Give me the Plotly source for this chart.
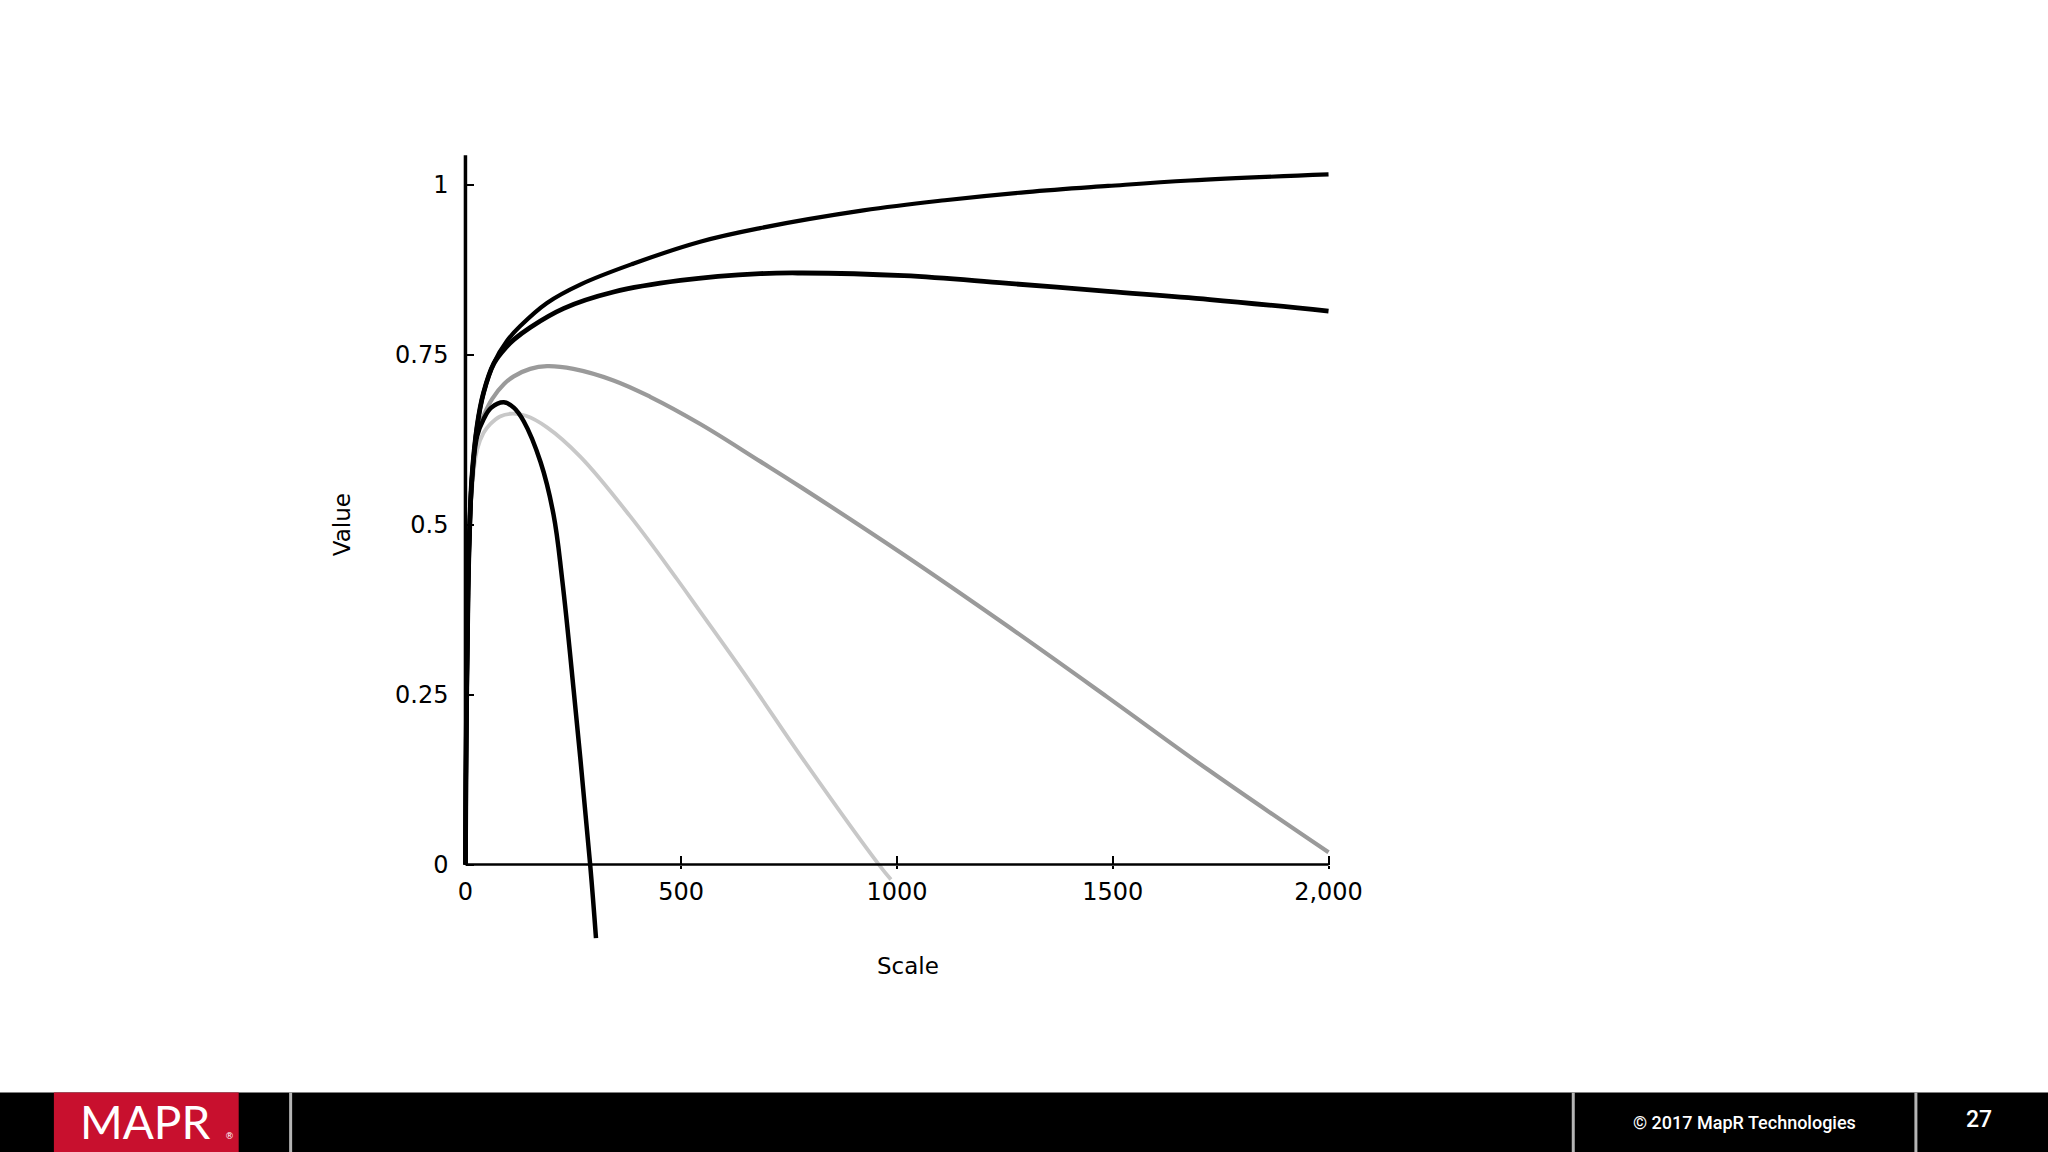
import plotly.graph_objects as go

# ---------------- data ----------------
upper_x = [0, 1, 3, 6, 9, 15, 27, 42, 66, 96, 127, 189, 266, 390, 544, 683, 922, 1111, 1300, 1489, 1679, 2000]
upper_y = [0, 0.12, 0.26, 0.40, 0.48, 0.57, 0.645, 0.694, 0.738, 0.770, 0.792, 0.826, 0.853, 0.884, 0.916, 0.936, 0.962, 0.977, 0.989, 0.998, 1.006, 1.015]

second_x = [0, 1, 3, 6, 9, 15, 27, 42, 66, 96, 112, 150, 228, 343, 498, 683, 780, 1016, 1252, 1489, 1725, 2000]
second_y = [0, 0.12, 0.26, 0.40, 0.48, 0.57, 0.645, 0.694, 0.737, 0.762, 0.772, 0.790, 0.818, 0.842, 0.859, 0.869, 0.870, 0.866, 0.855, 0.843, 0.831, 0.814]

gray_x = [0, 1, 3, 6, 9, 15, 27, 42, 62, 90, 112, 150, 189, 250, 343, 428, 544, 683, 780, 1015, 1251, 1486, 1722, 2000]
gray_y = [0, 0.12, 0.26, 0.40, 0.48, 0.56, 0.635, 0.660, 0.685, 0.707, 0.718, 0.729, 0.733, 0.729, 0.712, 0.688, 0.648, 0.593, 0.554, 0.456, 0.353, 0.247, 0.139, 0.018]

light_x = [0, 1, 3, 6, 9, 15, 27, 42, 58, 80, 104, 140, 189, 266, 382, 490, 544, 657, 780, 958, 986]
light_y = [0, 0.12, 0.26, 0.40, 0.48, 0.55, 0.61, 0.635, 0.648, 0.659, 0.663, 0.660, 0.643, 0.600, 0.512, 0.420, 0.372, 0.271, 0.157, 0.0, -0.022]

short_x = [0, 1, 3, 6, 9, 15, 27, 42, 60, 89, 112, 135, 174, 204, 224, 251, 289, 302.5]
short_y = [0, 0.12, 0.26, 0.40, 0.48, 0.565, 0.63, 0.655, 0.672, 0.680, 0.672, 0.652, 0.592, 0.515, 0.420, 0.255, 0.0, -0.108]

x_tickvals = [0, 500, 1000, 1500, 2000]
x_ticktext = ["0", "500", "1000", "1500", "2,000"]
y_tickvals = [0, 0.25, 0.5, 0.75, 1]
y_ticktext = ["0", "0.25", "0.5", "0.75", "1"]

x_title = "Scale"
y_title = "Value"
footer_text = "© 2017 MapR Technologies"
page_no = "27"
logo_text = "MAPR"

# ---------------- layout geometry ----------------
W, H = 2048, 1152
X_MIN, X_MAX = -8, 2015
Y_MIN, Y_MAX = -0.13, 1.045
PX_PER_X = 0.432
PX_PER_Y = 680.0
X0_PX, Y0_PX = 465.0, 865.0

ML = X0_PX + X_MIN * PX_PER_X
PLOT_R = X0_PX + X_MAX * PX_PER_X
MR = W - PLOT_R
MT = Y0_PX - Y_MAX * PX_PER_Y
PLOT_B = Y0_PX - Y_MIN * PX_PER_Y
MB = H - PLOT_B
PW = W - ML - MR
PH = H - MT - MB


def px_x(px):
    return (px - ML) / PW


def px_y(py):
    return (H - MB - py) / PH


FONT = "DejaVu Sans"
TICK_SIZE = 24

fig = go.Figure()

series = [
    (light_x, light_y, "#c8c8c8", 3.8),
    (gray_x, gray_y, "#9a9a9a", 4.2),
    (second_x, second_y, "#000000", 4.8),
    (upper_x, upper_y, "#000000", 4.2),
    (short_x, short_y, "#000000", 4.5),
]
for xs, ys, col, w in series:
    fig.add_trace(go.Scatter(x=xs, y=ys, mode="lines",
                             line=dict(color=col, width=w, shape="spline", smoothing=1.1),
                             showlegend=False, hoverinfo="skip"))

# invisible trace for the overlay axis carrying the short outer x ticks
fig.add_trace(go.Scatter(x=[None], y=[None], xaxis="x2", yaxis="y", showlegend=False, hoverinfo="skip"))

xpos = (0 - Y_MIN) / (Y_MAX - Y_MIN)
ypos = (0 - X_MIN) / (X_MAX - X_MIN)

fig.update_layout(
    width=W, height=H, autosize=False,
    paper_bgcolor="white", plot_bgcolor="white",
    margin=dict(l=ML, r=MR, t=MT, b=MB, pad=0),
    font=dict(family=FONT, color="black", size=TICK_SIZE),
    xaxis=dict(range=[X_MIN, X_MAX], anchor="free", position=xpos,
               showgrid=False, zeroline=False, showline=False,
               tickmode="array", tickvals=x_tickvals, ticktext=x_ticktext,
               ticks="inside", ticklen=9, tickwidth=2, tickcolor="black",
               tickfont=dict(family=FONT, size=TICK_SIZE, color="black"),
               ticklabelstandoff=10),
    xaxis2=dict(range=[X_MIN, X_MAX], overlaying="x", anchor="free", position=xpos,
                showgrid=False, zeroline=False, showline=False,
                tickmode="array", tickvals=x_tickvals[1:],
                ticks="outside", ticklen=3, tickwidth=2, tickcolor="black",
                showticklabels=False),
    yaxis=dict(range=[Y_MIN, Y_MAX], anchor="free", position=ypos,
               showgrid=False, zeroline=False, showline=False,
               tickmode="array", tickvals=y_tickvals, ticktext=y_ticktext,
               ticks="inside", ticklen=8, tickwidth=2, tickcolor="black",
               tickfont=dict(family=FONT, size=TICK_SIZE, color="black"),
               ticklabelstandoff=17),
)

shapes = [
    # axis lines
    dict(type="line", xref="x", yref="y", x0=0, x1=x_tickvals[-1], y0=0, y1=0,
         line=dict(color="black", width=2.5)),
    dict(type="line", xref="x", yref="y", x0=0, x1=0, y0=0, y1=Y_MAX - 0.002,
         line=dict(color="black", width=3.5)),
    # footer bar
    dict(type="rect", xref="paper", yref="paper", x0=px_x(-2), x1=px_x(W + 2), y0=px_y(1093), y1=px_y(H + 2),
         fillcolor="black", line=dict(width=0), layer="above"),
    dict(type="rect", xref="paper", yref="paper", x0=px_x(53), x1=px_x(238), y0=px_y(1093), y1=px_y(H + 2),
         fillcolor="#c8102e", line=dict(width=0), layer="above"),
]
for sx in [290, 1574, 1917]:
    shapes.append(dict(type="line", xref="paper", yref="paper", x0=px_x(sx), x1=px_x(sx),
                       y0=px_y(1093), y1=px_y(H + 2), line=dict(color="#b5b5b5", width=3), layer="above"))
fig.update_layout(shapes=shapes)

annotations = [
    dict(text=x_title, xref="paper", yref="paper", x=px_x(908), y=px_y(966),
         xanchor="center", yanchor="middle", showarrow=False,
         font=dict(family=FONT, size=23, color="black")),
    dict(text=y_title, xref="paper", yref="paper", x=px_x(341), y=px_y(525),
         xanchor="center", yanchor="middle", showarrow=False, textangle=-90,
         font=dict(family=FONT, size=23, color="black")),
    dict(text=logo_text, xref="paper", yref="paper", x=px_x(144), y=px_y(1122),
         xanchor="center", yanchor="middle", showarrow=False,
         font=dict(family="Lato", size=46, color="white", weight=400)),
    dict(text="®", xref="paper", yref="paper", x=px_x(229), y=px_y(1136),
         xanchor="center", yanchor="middle", showarrow=False,
         font=dict(family=FONT, size=9, color="white")),
    dict(text=footer_text, xref="paper", yref="paper", x=px_x(1745), y=px_y(1123),
         xanchor="center", yanchor="middle", showarrow=False,
         font=dict(family="Roboto", size=18, color="white", weight=500)),
    dict(text=page_no, xref="paper", yref="paper", x=px_x(1980), y=px_y(1120),
         xanchor="center", yanchor="middle", showarrow=False,
         font=dict(family="Roboto", size=23, color="white", weight=500)),
]
fig.update_layout(annotations=annotations)

fig.write_html("out.html",
               config={"displayModeBar": False},
               post_script="document.body.style.margin='0px';document.body.style.overflow='hidden';")
